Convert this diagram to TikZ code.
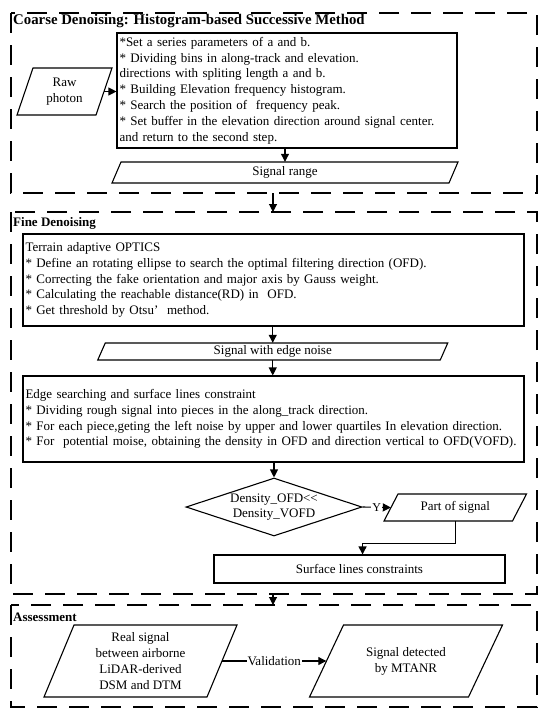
\documentclass[tikz,border=0pt]{standalone}
\usepackage{fontspec}
\setmainfont{Liberation Serif}
\usetikzlibrary{arrows.meta,shapes.geometric}
\newcommand\parabox[7]{%
  \draw[box] ({#2-#4/2+#6/2},{#3-#5/2}) -- ({#2+#4/2+#6/2},{#3-#5/2}) -- ({#2+#4/2-#6/2},{#3+#5/2}) -- ({#2-#4/2-#6/2},{#3+#5/2}) -- cycle;
  \node[txt, minimum width=#4pt, minimum height=#5pt, inner sep=0pt, align=center] (#1) at (#2,#3) {#7};
}
\begin{document}
\begin{tikzpicture}[x=1pt,y=-1pt,
  frame/.style={draw, line width=1.3pt, dash pattern=on 20pt off 12pt},
  box/.style={draw, line width=1.1pt},
  txt/.style={font=\fontsize{13}{15.8}\selectfont},
  rbox/.style={box, txt, inner xsep=2.5pt, inner ysep=0pt, align=left},
  ttl/.style={font=\bfseries\fontsize{13}{15}\selectfont, anchor=west, inner sep=0pt},
  arr/.style={line width=1.1pt,-{Triangle[length=8pt,width=8pt]}},
  ln/.style={line width=1.1pt}
]
\useasboundingbox (0,0) rectangle (550,723);
% frames
\draw[frame] (11,13) rectangle (537,193);
\draw[frame] (11,212) rectangle (537,594);
\draw[frame] (11,605) rectangle (537,707);
\node[ttl, font=\bfseries\fontsize{14.8}{17}\selectfont] (t1) at (13,21) {Coarse Denoising: Histogram-based Successive Method};
\node[ttl] (t2) at (13,223) {Fine Denoising};
\node[ttl] (t3) at (13,617) {Assessment};
\coordinate (c1) at (273,193);
\coordinate (f1) at (273,212);
\coordinate (f2) at (273,594);
\coordinate (a1) at (273,605);

% coarse
\parabox{raw}{64.5}{91.5}{79}{47}{16}{Raw\\photon}
\node[rbox, minimum width=340pt, minimum height=115pt, text width=335pt] (steps) at (287,90.5) {*Set a series parameters of a and b.\\
{*} Dividing bins in along-track and elevation.\\
directions with spliting length a and b.\\
{*} Building Elevation frequency histogram.\\
{*} Search the position of~ frequency peak.\\
{*} Set buffer in the elevation direction around signal center.\\
and return to the second step.};
\parabox{range}{285}{172.5}{337}{21}{9}{Signal range}
\draw[arr] (raw.east) -- (steps.west |- raw.east);
\draw[arr] (steps.south -| range.north) -- (range.north);
\draw[arr] (c1) -- (f1);

% fine
\node[rbox, minimum width=501pt, minimum height=92pt, text width=496pt] (optics) at (273.5,280) {Terrain adaptive OPTICS\\
{*} Define an rotating ellipse to search the optimal filtering direction (OFD).\\
{*} Correcting the fake orientation and major axis by Gauss weight.\\
{*} Calculating the reachable distance(RD) in~ OFD.\\
{*} Get threshold by Otsu’~~method.};
\parabox{edge}{272.75}{351.5}{342.5}{17}{7.5}{Signal with edge noise}
\node[rbox, minimum width=501pt, minimum height=86pt, text width=496pt] (search) at (273.5,419) {Edge searching and surface lines constraint\\
{*} Dividing rough signal into pieces in the along\_track direction.\\
{*} For each piece,geting the left noise by upper and lower quartiles In elevation direction.\\
{*} For~ potential moise, obtaining the density in OFD and direction vertical to OFD(VOFD).};
\node[draw, line width=1.1pt, shape=diamond, aspect=3, inner sep=0pt, minimum width=176pt, minimum height=58pt, txt, align=center] (dec) at (274,507) {Density\_OFD<{}<\\Density\_VOFD};
\parabox{part}{455.25}{507.5}{128.5}{27}{14}{Part of signal}
\node[box, txt, minimum width=291pt, minimum height=28pt, inner sep=0pt] (surf) at (359.5,569) {Surface lines constraints};
\draw[arr] (optics.south -| edge.north) -- (edge.north);
\draw[arr] (edge.south) -- (search.north -| edge.south);
\draw[arr] (search.south -| dec.north) -- (dec.north);
\draw[arr] (dec.east) -- node[fill=white, inner sep=1pt, font=\fontsize{12}{13}\selectfont] (ylab) {Y} (part.west);
\draw[arr] (part.south) -- ++(0,22) -| (dec.east |- surf.north);
\draw[arr] (f2) -- (a1);

% assessment
\parabox{real}{140.5}{661}{163}{72}{30}{Real signal\\between airborne\\LiDAR-derived\\DSM and DTM}
\parabox{det}{406}{661}{159}{72}{34}{Signal detected\\by MTANR}
\draw[arr] (real.east) -- node[fill=white, inner sep=1pt, txt] (val) {Validation} (det.west);
\end{tikzpicture}
\end{document}
